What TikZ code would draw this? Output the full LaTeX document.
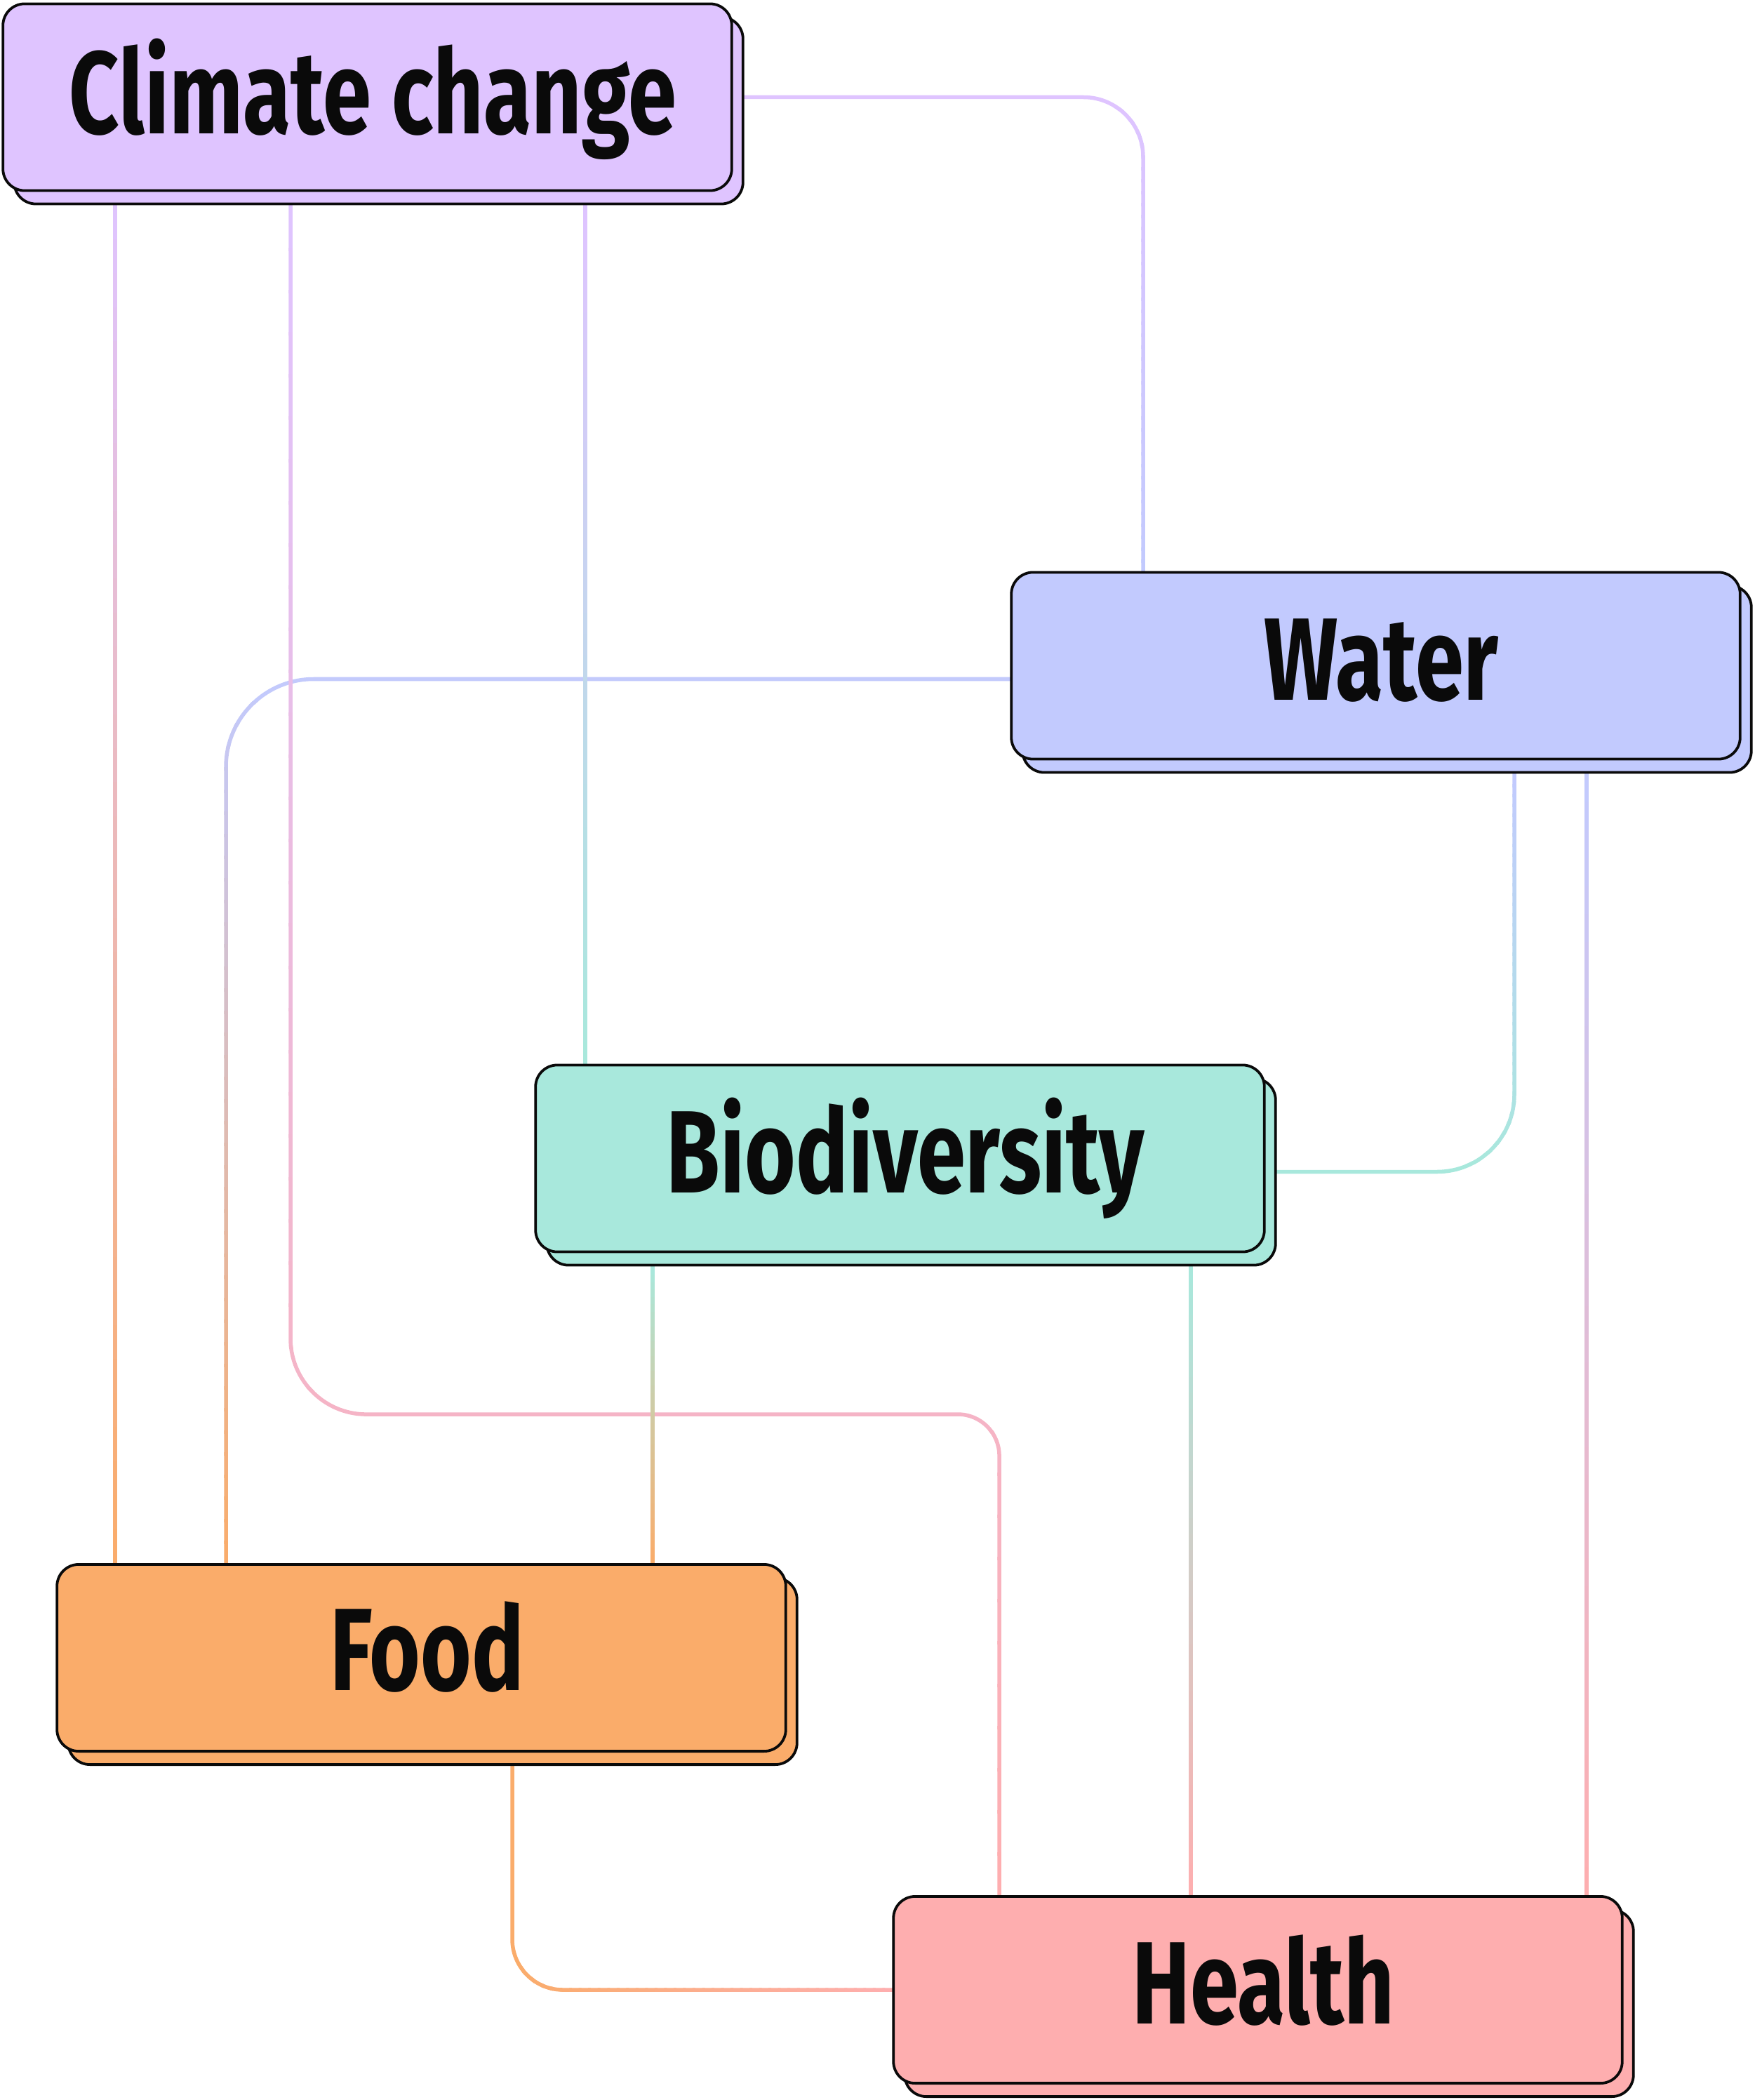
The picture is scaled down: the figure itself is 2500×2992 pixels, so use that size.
\documentclass[tikz,border=0pt]{standalone}
\usepackage{fontspec}
\newfontfamily\labfont{Fira Sans}[FakeStretch=0.745]
\usetikzlibrary{calc,backgrounds}
\definecolor{ccC}{HTML}{DFC4FF}
\definecolor{waC}{HTML}{C2CAFE}
\definecolor{bioC}{HTML}{A8E8DC}
\definecolor{foodC}{HTML}{FAAC6A}
\definecolor{hlC}{HTML}{FEAEAF}
\definecolor{ink}{HTML}{0A0A0A}
\tikzset{
  box/.style={draw=ink, line width=0.038cm, rounded corners=0.31cm,
    minimum width=10.38cm, minimum height=2.66cm, inner sep=0pt, outer sep=0pt},
  lab/.style={font=\labfont\bfseries\fontsize{47.5}{50}\selectfont, text=ink,
    inner sep=0pt, anchor=base},
  conn/.style={line width=0.055cm, line cap=butt},
}
% gradient connector: #1 v/h, #2 from, #3 to, #4 start colour, #5 end colour; path in \cpath
\newcommand\gconn[5]{%
  \pgfmathsetmacro\gstep{(#3-#2)/40}%
  \foreach \k in {0,...,39}{%
    \pgfmathsetmacro\lo{\k==0 ? -1000 : #2+\gstep*\k}%
    \pgfmathsetmacro\hi{\k==39 ? 4000 : #2+\gstep*(\k+1)+4}%
    \pgfmathsetmacro\pc{100*(\k+0.5)/40}%
    \begin{scope}
      \if v#1\clip (-1000,\lo) rectangle (4000,\hi);\else\clip (\lo,-1000) rectangle (\hi,4000);\fi
      \draw[conn, draw=#5!\pc!#4] \cpath;
    \end{scope}
  }%
}
\begin{document}
\begin{tikzpicture}[x=0.01cm, y=-0.01cm]
\useasboundingbox (0,0) rectangle (2500,2992);
% boxes
\node[box, fill=ccC] (ccs) at (539.5,157.5) {};
\node[box, fill=ccC] (cc) at (523.5,138.5) {};
\node[box, fill=waC] (was) at (1976.5,967.5) {};
\node[box, fill=waC] (wa) at (1960.5,948.5) {};
\node[box, fill=bioC] (bios) at (1298.5,1669.5) {};
\node[box, fill=bioC] (bio) at (1282.5,1650.5) {};
\node[box, fill=foodC] (foods) at (616.5,2381) {};
\node[box, fill=foodC] (food) at (600.5,2362) {};
\node[box, fill=hlC] (hls) at (1808.5,2854) {};
\node[box, fill=hlC] (hl) at (1792.5,2835) {};
% labels
\node[lab] (ccT) at ($(cc.north)+(8,185)$) {Climate change};
\node[lab] (waT) at ($(wa.north)+(8,182)$) {Water};
\node[lab] (bioT) at ($(bio.north)+(8,182)$) {Biodiversity};
\node[lab] (foodT) at ($(food.north)+(8,180)$) {Food};
\node[lab] (hlT) at ($(hl.north)+(8,182)$) {Health};
% connectors
\begin{scope}[on background layer]
  % Climate change -> Water
  \def\cpath{[rounded corners=0.85cm] (ccs.east |- cc.center) -| (1629,0 |- wa.north)}
  \gconn{v}{137}{814}{ccC}{waC}
  % Water -> Food
  \def\cpath{[rounded corners=1.25cm] (wa.west |- was.center) -| (322,0 |- food.north)}
  \gconn{v}{968}{2227}{waC}{foodC}
  % Water -> Biodiversity
  \def\cpath{[rounded corners=1.1cm] (2158,0 |- was.south) |- (bios.east)}
  \gconn{v}{1103}{1669}{waC}{bioC}
  % Water -> Health
  \def\cpath{(2261,0 |- was.south) -- (2261,0 |- hl.north)}
  \gconn{v}{1103}{2700}{waC}{hlC}
  % Climate change -> Food
  \def\cpath{(164,0 |- ccs.south) -- (164,0 |- food.north)}
  \gconn{v}{293}{2227}{ccC}{foodC}
  % Climate change -> Health
  \def\cpath{(414,0 |- ccs.south) -- (414,1907) arc[start angle=180,end angle=270,radius=1.08cm]
     -- (1365,2015) arc[start angle=90,end angle=0,radius=0.59cm] -- (1424,0 |- hl.north)}
  \gconn{v}{293}{2700}{ccC}{hlC}
  % Climate change -> Biodiversity
  \def\cpath{(834,0 |- ccs.south) -- (834,0 |- bio.north)}
  \gconn{v}{293}{1515}{ccC}{bioC}
  % Biodiversity -> Food
  \def\cpath{(930,0 |- bios.south) -- (930,0 |- food.north)}
  \gconn{v}{1806}{2227}{bioC}{foodC}
  % Biodiversity -> Health
  \def\cpath{(1697,0 |- bios.south) -- (1697,0 |- hl.north)}
  \gconn{v}{1806}{2700}{bioC}{hlC}
  % Food -> Health
  \def\cpath{[rounded corners=0.72cm] (730,0 |- foods.south) |- (hl.west)}
  \gconn{h}{730}{1271}{foodC}{hlC}
\end{scope}
\end{tikzpicture}
\end{document}
